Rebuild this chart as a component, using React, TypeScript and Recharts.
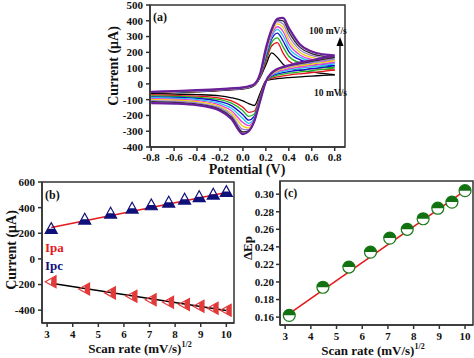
import React from "react";
import {
    LineChart,
    ComposedChart,
    Line,
    Scatter,
    XAxis,
    YAxis,
    ReferenceArea,
} from "recharts";

// (a) cyclic voltammograms, 10 -> 100 mV/s
const potential = [-0.8, -0.6, -0.4, -0.2, -0.1, 0, 0.05, 0.1, 0.15, 0.2, 0.25, 0.3, 0.35, 0.4, 0.5, 0.6, 0.7, 0.8];
const scanRates = [10, 20, 30, 40, 50, 60, 70, 80, 90, 100];
// forward (anodic) branch, one row per scan rate
const anodic = [
    [-62, -56, -50, -43, -38, -32, -25, -10, 40, 120, 196, 168, 125, 102, 84, 74, 66, 58],
    [-60, -54, -48, -41, -36, -30, -23, -9, 45, 140, 240, 262, 195, 145, 112, 98, 92, 88],
    [-59, -53, -47, -40, -35, -29, -22, -8, 48, 155, 262, 292, 235, 175, 132, 115, 107, 102],
    [-58, -52, -46, -39, -34, -28, -21, -7, 51, 170, 283, 322, 272, 205, 152, 130, 120, 115],
    [-57, -51, -45, -38, -33, -27, -20, -6, 54, 182, 298, 346, 305, 230, 168, 143, 132, 127],
    [-56, -50, -44, -37, -32, -26, -19, -5, 56, 192, 310, 362, 332, 255, 182, 155, 143, 137],
    [-55, -49, -43, -36, -31, -25, -18, -4, 58, 202, 322, 380, 358, 280, 198, 168, 154, 147],
    [-54, -48, -42, -35, -30, -24, -17, -3, 60, 210, 331, 394, 380, 305, 214, 180, 164, 157],
    [-52, -47, -41, -34, -29, -23, -16, -2, 62, 218, 338, 404, 400, 330, 230, 192, 175, 168],
    [-50, -45, -40, -33, -28, -22, -15, -1, 65, 225, 345, 412, 418, 355, 248, 205, 187, 180],
];
// reverse (cathodic) branch
const cathodic = [
    [-62, -65, -68, -76, -88, -108, -125, -137, -60, 18, 28, 33, 37, 40, 45, 49, 54, 58],
    [-70, -73, -78, -90, -108, -148, -180, -172, -75, 17, 35, 45, 51, 56, 64, 71, 79, 88],
    [-76, -79, -85, -100, -122, -170, -206, -190, -82, 16, 42, 55, 62, 68, 76, 84, 92, 102],
    [-82, -85, -92, -112, -138, -195, -230, -205, -88, 16, 48, 63, 72, 78, 88, 96, 105, 115],
    [-88, -91, -99, -124, -154, -220, -250, -215, -93, 15, 53, 70, 80, 88, 98, 107, 116, 127],
    [-94, -97, -106, -135, -170, -245, -265, -222, -98, 15, 57, 77, 88, 96, 107, 117, 126, 137],
    [-100, -103, -113, -144, -185, -268, -280, -228, -102, 15, 61, 83, 95, 104, 116, 126, 136, 147],
    [-106, -110, -121, -152, -198, -288, -290, -232, -105, 15, 64, 88, 101, 110, 124, 135, 146, 157],
    [-113, -117, -128, -161, -210, -305, -298, -235, -108, 15, 67, 92, 105, 115, 130, 143, 155, 168],
    [-122, -125, -135, -170, -222, -318, -300, -236, -110, 15, 70, 95, 108, 118, 136, 150, 165, 180],
];
const cvColors = ["#000000", "#e8101a", "#1fb51f", "#1010c8", "#1ec8f5", "#e040e0", "#f0d010", "#9a7fd0", "#2b2b2b", "#6a1f9a"];
const cvXTicks = [-0.8, -0.6, -0.4, -0.2, 0, 0.2, 0.4, 0.6, 0.8];
const cvYTicks = [-400, -300, -200, -100, 0, 100, 200, 300, 400, 500];

// (b) peak currents vs sqrt(scan rate)
const sqrtRate = [3.16, 4.47, 5.48, 6.32, 7.07, 7.75, 8.37, 8.94, 9.49, 10];
const ipa = [236, 309, 356, 395, 421, 442, 465, 485, 504, 525];
const ipc = [-178, -235, -265, -292, -318, -338, -355, -370, -385, -400];
const fitX = [3.16, 10];
const ipaFit = [245, 518];
const ipcFit = [-190, -402];
const rateTicks = [3, 4, 5, 6, 7, 8, 9, 10];
const bYTicks = [-400, -200, 0, 200, 400, 600];

// (c) peak separation
const deltaEp = [0.162, 0.194, 0.217, 0.234, 0.25, 0.26, 0.272, 0.284, 0.291, 0.304];
const epFit = [0.164, 0.304];
const cYTicks = [0.16, 0.18, 0.2, 0.22, 0.24, 0.26, 0.28, 0.3];

const SERIF = "'Liberation Serif', 'Times New Roman', serif";
const AXIS = "#333";
const tickStyle = { fontSize: 11, fontWeight: "bold" as const, fill: "#111", fontFamily: SERIF };

const cvRows = potential.map((E, i) => {
    const row: Record<string, number> = { E };
    anodic.forEach((s, k) => (row["a" + k] = s[i]));
    cathodic.forEach((s, k) => (row["c" + k] = s[i]));
    return row;
});
const pts = (xs: number[], ys: number[]) => xs.map((x, i) => ({ x, y: ys[i] }));

// half filled markers
const TriUp = (p: any) => {
    const { cx, cy } = p;
    if (cx == null) return null;
    const s = 6;
    const h = s * 0.55;
    return (
        <g>
            <polygon points={`${cx - h},${cy} ${cx + h},${cy} ${cx + s},${cy + s * 0.8} ${cx - s},${cy + s * 0.8}`} fill="#10107a" />
            <polygon points={`${cx},${cy - s} ${cx + s},${cy + s * 0.8} ${cx - s},${cy + s * 0.8}`} fill="none" stroke="#10107a" strokeWidth={1.2} />
        </g>
    );
};
const TriLeft = (p: any) => {
    const { cx, cy } = p;
    if (cx == null) return null;
    const s = 6;
    const h = s * 0.55;
    return (
        <g>
            <polygon points={`${cx},${cy - h} ${cx + s * 0.8},${cy - s} ${cx + s * 0.8},${cy + s} ${cx},${cy + h}`} fill="#e23a3a" />
            <polygon points={`${cx - s},${cy} ${cx + s * 0.8},${cy - s} ${cx + s * 0.8},${cy + s}`} fill="none" stroke="#e23a3a" strokeWidth={1.2} />
        </g>
    );
};
const HalfCircle = (p: any) => {
    const { cx, cy } = p;
    if (cx == null) return null;
    const r = 6;
    return (
        <g>
            <circle cx={cx} cy={cy} r={r} fill="#fff" stroke="#1a7a1a" strokeWidth={1.2} />
            <path d={`M${cx - r},${cy} A${r},${r} 0 0 1 ${cx + r},${cy} Z`} fill="#127212" />
        </g>
    );
};

const text = (extra: React.CSSProperties): React.CSSProperties => ({
    position: "absolute",
    fontFamily: SERIF,
    fontWeight: "bold",
    whiteSpace: "nowrap",
    color: "#111",
    lineHeight: 1,
    ...extra,
});
const vText = (cx: number, cy: number, size: number): React.CSSProperties =>
    text({ left: cx, top: cy, fontSize: size, transform: "translate(-50%,-50%) rotate(-90deg)" });
const hText = (cx: number, cy: number, size: number): React.CSSProperties =>
    text({ left: cx, top: cy, fontSize: size, transform: "translate(-50%,-50%)" });

const App: React.FC = () => {
    return (
        <div style={{ position: "absolute", left: 0, top: 0, width: 474, height: 358, background: "#fff", overflow: "hidden" }}>
            {/* (a) CV curves */}
            <div style={{ position: "absolute", left: 0, top: 0 }}>
                <LineChart width={474} height={180} data={cvRows} margin={{ top: 5, right: 129, left: 90, bottom: 0 }}>
                    <XAxis
                        type="number"
                        dataKey="E"
                        domain={[-0.81, 0.89]}
                        ticks={cvXTicks}
                        interval={0}
                        tickFormatter={(v: number) => v.toFixed(1)}
                        height={33}
                        tickSize={4}
                        tickMargin={2}
                        tick={tickStyle}
                        stroke={AXIS}
                        strokeWidth={1.5}
                        allowDataOverflow
                    />
                    <YAxis
                        type="number"
                        domain={[-400, 500]}
                        ticks={cvYTicks}
                        interval={0}
                        width={60}
                        tickSize={4}
                        tickMargin={3}
                        tick={tickStyle}
                        stroke={AXIS}
                        strokeWidth={1.5}
                        allowDataOverflow
                    />
                    <ReferenceArea x1={-0.81} x2={0.89} y1={-400} y2={500} fill="none" stroke={AXIS} strokeWidth={1.5} />
                    {scanRates.map((r, k) => (
                        <Line key={"a" + r} type="monotone" dataKey={"a" + k} stroke={cvColors[k]} strokeWidth={k === 9 ? 2.2 : 1.3} dot={false} isAnimationActive={false} />
                    ))}
                    {scanRates.map((r, k) => (
                        <Line key={"c" + r} type="monotone" dataKey={"c" + k} stroke={cvColors[k]} strokeWidth={k === 9 ? 2.2 : 1.3} dot={false} isAnimationActive={false} />
                    ))}
                </LineChart>
            </div>

            {/* (b) peak currents */}
            <div style={{ position: "absolute", left: 0, top: 175 }}>
                <ComposedChart width={240} height={183} margin={{ top: 7, right: 6, left: 0, bottom: 0 }}>
                    <XAxis type="number" dataKey="x" domain={[2.8, 10.3]} ticks={rateTicks} interval={0} height={35} tickSize={4} tickMargin={3} tick={tickStyle} stroke={AXIS} strokeWidth={1.5} allowDataOverflow />
                    <YAxis type="number" dataKey="y" domain={[-500, 600]} ticks={bYTicks} interval={0} width={42} tickSize={4} tickMargin={3} tick={tickStyle} stroke={AXIS} strokeWidth={1.5} allowDataOverflow />
                    <ReferenceArea x1={2.8} x2={10.3} y1={-500} y2={600} fill="none" stroke={AXIS} strokeWidth={1.5} />
                    <Scatter data={pts(sqrtRate, ipa)} dataKey="y" shape={TriUp} isAnimationActive={false} />
                    <Scatter data={pts(sqrtRate, ipc)} dataKey="y" shape={TriLeft} isAnimationActive={false} />
                    <Line data={pts(fitX, ipaFit)} dataKey="y" type="linear" stroke="#e41a1c" strokeWidth={1.5} dot={false} isAnimationActive={false} />
                    <Line data={pts(fitX, ipcFit)} dataKey="y" type="linear" stroke="#000" strokeWidth={1.5} dot={false} isAnimationActive={false} />
                </ComposedChart>
            </div>

            {/* (c) delta Ep */}
            <div style={{ position: "absolute", left: 240, top: 175 }}>
                <ComposedChart width={234} height={183} margin={{ top: 6, right: 1, left: 0, bottom: 0 }}>
                    <XAxis type="number" dataKey="x" domain={[2.8, 10.31]} ticks={rateTicks} interval={0} height={33} tickSize={4} tickMargin={3} tick={tickStyle} stroke={AXIS} strokeWidth={1.5} allowDataOverflow />
                    <YAxis
                        type="number"
                        dataKey="y"
                        domain={[0.151, 0.315]}
                        ticks={cYTicks}
                        interval={0}
                        tickFormatter={(v: number) => v.toFixed(2)}
                        width={40}
                        tickSize={4}
                        tickMargin={2}
                        tick={tickStyle}
                        stroke={AXIS}
                        strokeWidth={1.5}
                        allowDataOverflow
                    />
                    <ReferenceArea x1={2.8} x2={10.31} y1={0.151} y2={0.315} fill="none" stroke={AXIS} strokeWidth={1.5} />
                    <Scatter data={pts(sqrtRate, deltaEp)} dataKey="y" shape={HalfCircle} isAnimationActive={false} />
                    <Line data={pts(fitX, epFit)} dataKey="y" type="linear" stroke="#e41a1c" strokeWidth={1.6} dot={false} isAnimationActive={false} />
                </ComposedChart>
            </div>

            {/* annotations and axis titles */}
            <div style={text({ left: 153, top: 11, fontSize: 12 })}>(a)</div>
            <div style={text({ left: 309, top: 27, fontSize: 9.5 })}>100 mV/s</div>
            <div style={text({ left: 314, top: 89, fontSize: 9.5 })}>10 mV/s</div>
            <svg style={{ position: "absolute", left: 335, top: 36, overflow: "visible" }} width={10} height={62}>
                <line x1={5} y1={8} x2={5} y2={60} stroke="#000" strokeWidth={1.3} />
                <polygon points="1.5,10 8.5,10 5,1" fill="#000" />
            </svg>
            <div style={vText(114, 66, 14)}>Current (μA)</div>
            <div style={hText(247, 170, 14)}>Potential (V)</div>

            <div style={text({ left: 45, top: 189, fontSize: 12 })}>(b)</div>
            <div style={text({ left: 45, top: 241, fontSize: 13, color: "#e41a1c" })}>Ipa</div>
            <div style={text({ left: 45, top: 259, fontSize: 13, color: "#10107a" })}>Ipc</div>
            <div style={vText(12, 250, 14)}>Current (μA)</div>
            <div style={hText(140, 348, 13)}>
                Scan rate (mV/s)<sup style={{ fontSize: 8 }}>1/2</sup>
            </div>

            <div style={text({ left: 284, top: 187, fontSize: 12 })}>(c)</div>
            <div style={vText(247, 248, 13)}>ΔEp</div>
            <div style={hText(373, 350, 13)}>
                Scan rate (mV/s)<sup style={{ fontSize: 8 }}>1/2</sup>
            </div>
        </div>
    );
};

export default App;
